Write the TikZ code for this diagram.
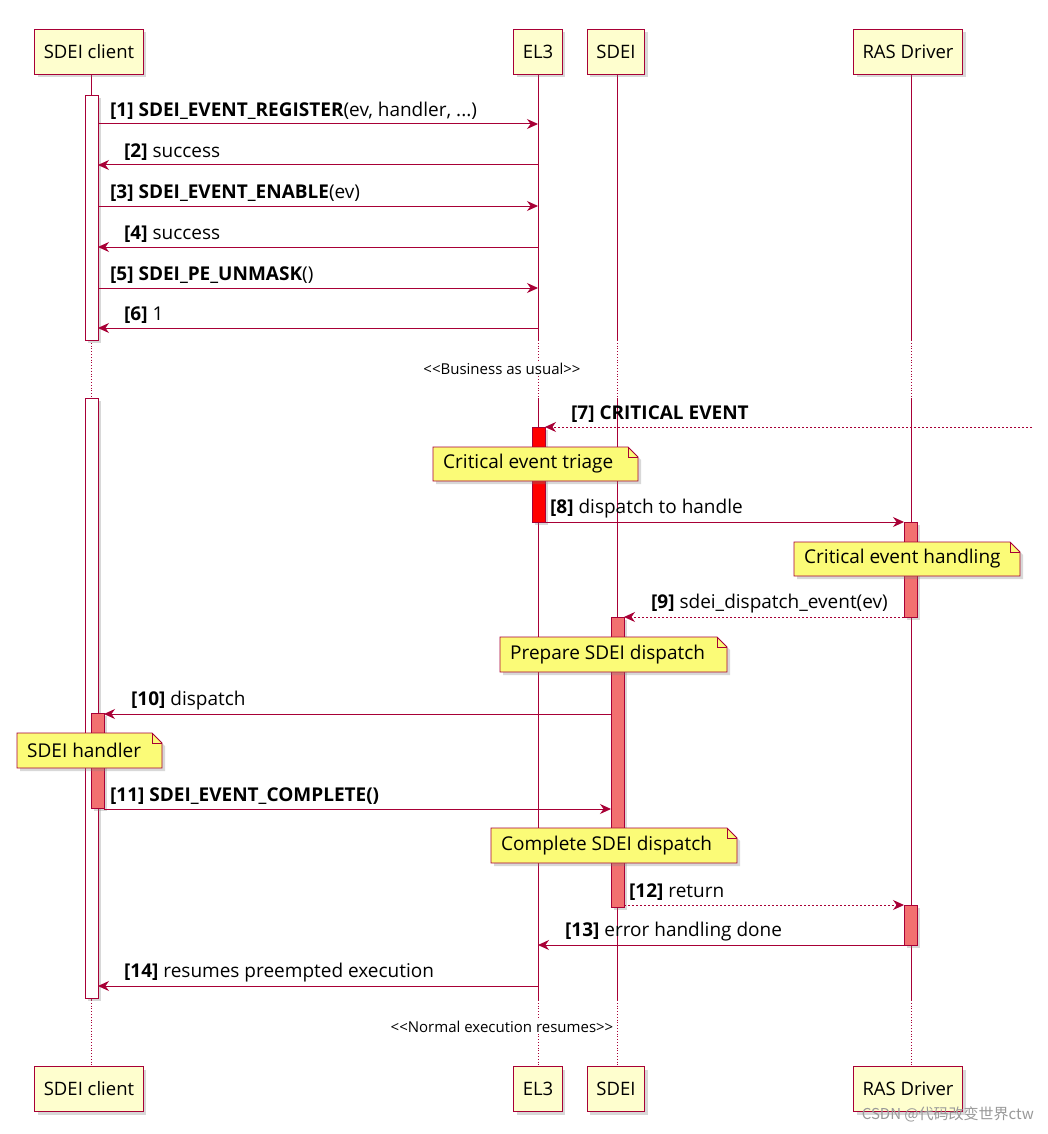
\documentclass[tikz,border=0pt]{standalone}
\usepackage{fontspec}
\setmainfont{Open Sans}
\newfontfamily\cjk{Noto Sans CJK SC}
\usetikzlibrary{arrows.meta,shadows}
\definecolor{pr}{HTML}{A80036}
\definecolor{pbox}{HTML}{FEFECE}
\definecolor{nfill}{HTML}{FBFB77}
\definecolor{act}{HTML}{F27070}
\tikzset{
 part/.style={draw=pr,fill=pbox,line width=1.2pt,minimum height=45pt,inner xsep=9pt,font=\fontsize{18.5}{20}\selectfont,drop shadow={shadow xshift=3pt,shadow yshift=-3pt,opacity=0.3}},
 life/.style={draw=pr,line width=0.8pt},
 lifed/.style={draw=pr,line width=0.8pt,dotted},
 actb/.style={draw=pr,fill=white,line width=0.8pt,drop shadow={shadow xshift=3pt,shadow yshift=-3pt,opacity=0.3}},
 msg/.style={draw=pr,line width=1pt,-{Stealth[length=11pt,width=10pt]}},
 msgd/.style={msg,dash pattern=on 2pt off 2pt},
 lbl/.style={anchor=south west,inner sep=0pt,font=\fontsize{19}{21}\selectfont},
 note/.style={draw=pr,fill=nfill,line width=0.8pt,drop shadow={shadow xshift=3pt,shadow yshift=-3pt,opacity=0.3}},
 ntext/.style={font=\fontsize{19}{21}\selectfont,inner sep=0pt,anchor=west},
 div/.style={font=\fontsize{15}{17}\selectfont,fill=white,inner sep=1pt}
}
\newcommand{\mynote}[6]{% name, x1,y1,x2,y2,text
 \path[note] (#2,#3) -- (#4-10,#3) -- (#4,#3+10) -- (#4,#5) -- (#2,#5) -- cycle;
 \draw[pr,line width=0.8pt] (#4-10,#3) -- (#4-10,#3+10) -- (#4,#3+10);
 \node[ntext] (#1) at (#2+10,{(#3+#5)/2}) {#6};}
\begin{document}
\begin{tikzpicture}[x=1pt,y=-1pt]
\useasboundingbox[fill=white] (0,0) rectangle (1048,1134);
\foreach \x/\n in {91/c,538/e,617/s,911/r}{
 \draw[life] (\x,75) -- (\x,340);
 \draw[lifed] (\x,340) -- (\x,398);
 \draw[life] (\x,398) -- (\x,1000);
 \draw[lifed] (\x,1000) -- (\x,1067);
}
\foreach \y/\s in {52/t,1089/b}{
 \node[part] (c\s) at (89,\y) {SDEI client};
 \node[part] (e\s) at (538,\y) {EL3};
 \node[part] (s\s) at (616,\y) {SDEI};
 \node[part] (r\s) at (908,\y) {RAS Driver};
}
\path[actb] (85,95) rectangle (98,340);
\path[actb] (85,398) rectangle (98,998);
\path[actb,fill=red] (532,427) rectangle (545,522);
\path[actb,fill=act] (904,522) rectangle (917,617);
\path[actb,fill=act] (611,617) rectangle (624,907);
\path[actb,fill=act] (91,713) rectangle (104,808);
\path[actb,fill=act] (904,905) rectangle (917,945);
\coordinate (a1s) at (98,124); \coordinate (a1e) at (538,124);
\coordinate (a2s) at (538,165); \coordinate (a2e) at (98,165);
\coordinate (a3s) at (98,206); \coordinate (a3e) at (538,206);
\coordinate (a4s) at (538,247); \coordinate (a4e) at (98,247);
\coordinate (a5s) at (98,288); \coordinate (a5e) at (538,288);
\coordinate (a6s) at (538,328); \coordinate (a6e) at (98,328);
\coordinate (a7s) at (1032,427); \coordinate (a7e) at (545,427);
\coordinate (a8s) at (545,522); \coordinate (a8e) at (904,522);
\coordinate (a9s) at (904,617); \coordinate (a9e) at (624,617);
\coordinate (a10s) at (611,714); \coordinate (a10e) at (104,714);
\coordinate (a11s) at (104,809); \coordinate (a11e) at (611,809);
\coordinate (a12s) at (624,905); \coordinate (a12e) at (904,905);
\coordinate (a13s) at (904,945); \coordinate (a13e) at (538,945);
\coordinate (a14s) at (538,986); \coordinate (a14e) at (98,986);
\draw[msg] (a1s) -- (a1e); \node[lbl] (l1) at (110,120) {\textbf{[1] SDEI\_EVENT\_REGISTER}(ev, handler, ...)};
\draw[msg] (a2s) -- (a2e); \node[lbl] (l2) at (124,161) {\textbf{[2]} success};
\draw[msg] (a3s) -- (a3e); \node[lbl] (l3) at (110,202) {\textbf{[3] SDEI\_EVENT\_ENABLE}(ev)};
\draw[msg] (a4s) -- (a4e); \node[lbl] (l4) at (124,243) {\textbf{[4]} success};
\draw[msg] (a5s) -- (a5e); \node[lbl] (l5) at (110,284) {\textbf{[5] SDEI\_PE\_UNMASK}()};
\draw[msg] (a6s) -- (a6e); \node[lbl] (l6) at (124,324) {\textbf{[6]} 1};
\node[div] (d1) at (502,369) {<{}<Business as usual>{}>};
\draw[msgd] (a7s) -- (a7e); \node[lbl] (l7) at (571,423) {\textbf{[7] CRITICAL EVENT}};
\mynote{n1}{433}{447}{638}{481}{Critical event triage}
\draw[msg] (a8s) -- (a8e); \node[lbl] (l8) at (550,518) {\textbf{[8]} dispatch to handle};
\mynote{n2}{794}{542}{1020}{576}{Critical event handling}
\draw[msgd] (a9s) -- (a9e); \node[lbl] (l9) at (651,613) {\textbf{[9]} sdei\_dispatch\_event(ev)};
\mynote{n3}{500}{637}{727}{672}{Prepare SDEI dispatch}
\draw[msg] (a10s) -- (a10e); \node[lbl] (l10) at (131,710) {\textbf{[10]} dispatch};
\mynote{n4}{17}{733}{162}{768}{SDEI handler}
\draw[msg] (a11s) -- (a11e); \node[lbl] (l11) at (110,805) {\textbf{[11] SDEI\_EVENT\_COMPLETE()}};
\mynote{n5}{491}{828}{737}{863}{Complete SDEI dispatch}
\draw[msgd] (a12s) -- (a12e); \node[lbl] (l12) at (629,901) {\textbf{[12]} return};
\draw[msg] (a13s) -- (a13e); \node[lbl] (l13) at (565,941) {\textbf{[13]} error handling done};
\draw[msg] (a14s) -- (a14e); \node[lbl] (l14) at (124,982) {\textbf{[14]} resumes preempted execution};
\node[div] (d2) at (502,1027) {<{}<Normal execution resumes>{}>};
\node[anchor=east,text=gray!80,font=\cjk\fontsize{15}{17}\selectfont,inner sep=0pt] (wm) at (1034,1114) {CSDN @代码改变世界ctw};
\end{tikzpicture}
\end{document}
